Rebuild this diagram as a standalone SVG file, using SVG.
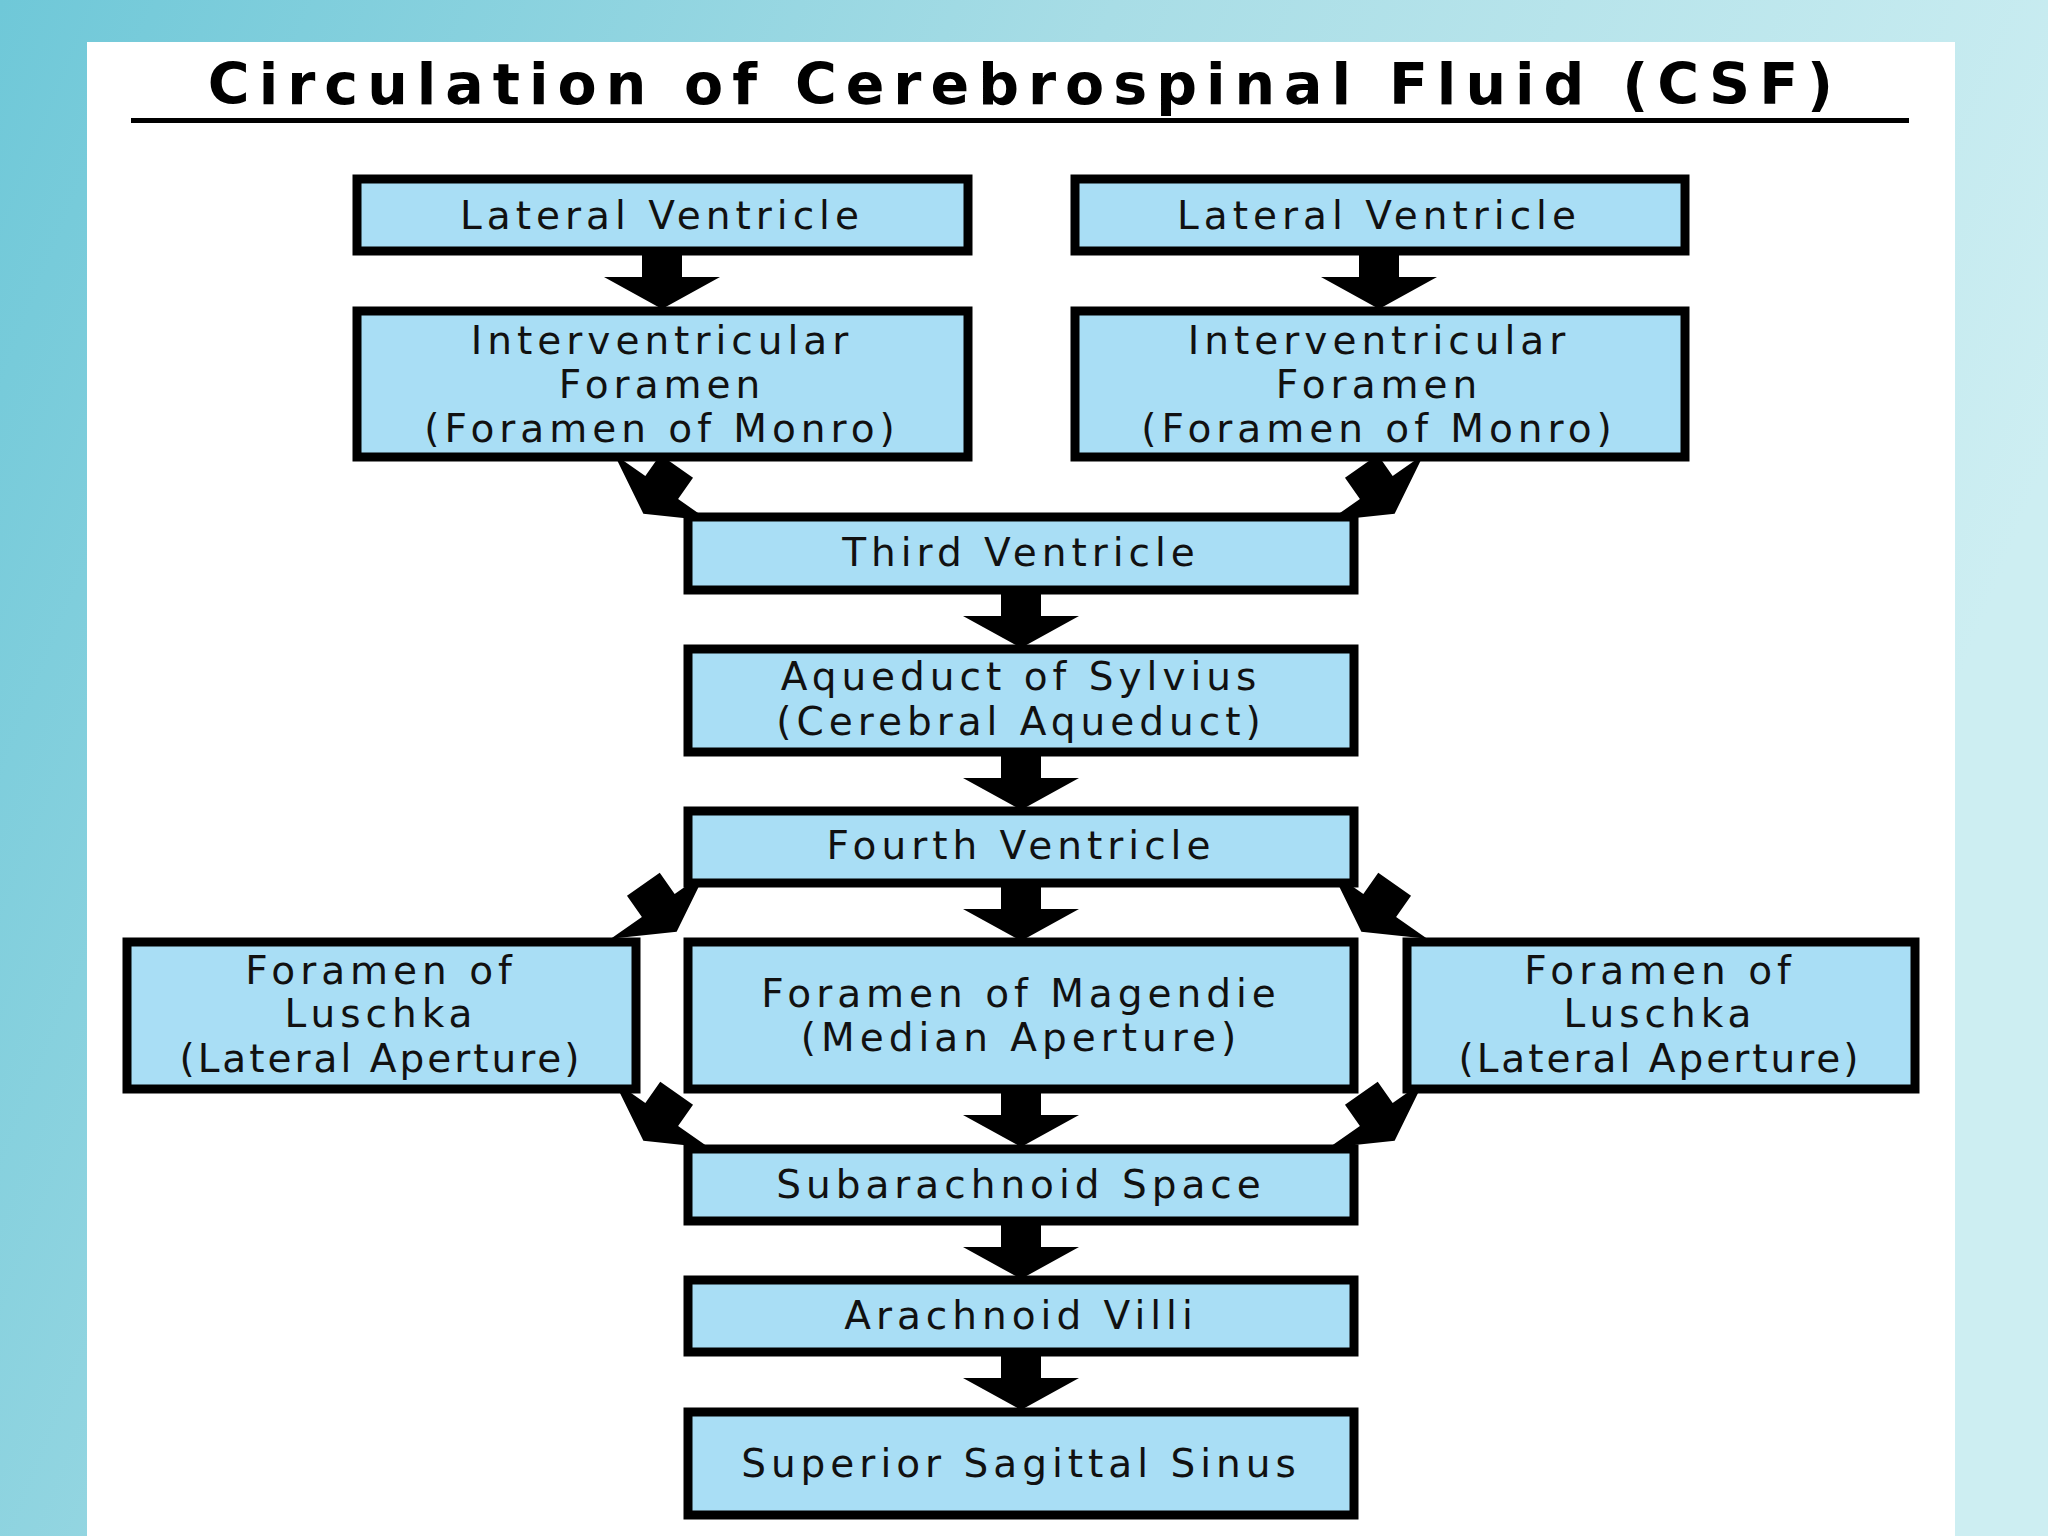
<svg xmlns="http://www.w3.org/2000/svg" width="2048" height="1536" viewBox="0 0 2048 1536">
<defs>
<linearGradient id="bg" x1="0" y1="0" x2="1" y2="0.3"><stop offset="0" stop-color="#6fc8d8"/><stop offset="0.5" stop-color="#a8dde6"/><stop offset="1" stop-color="#cdeef2"/></linearGradient>
<path id="ar" d="M-20,0 H20 V26 H58 L0,58 L-58,26 H-20 Z" fill="#000"/>
<path id="arc" d="M-20,-29 H20 V-3 H58 L0,29 L-58,-3 H-20 Z" fill="#000"/>
</defs>
<style>
.b{fill:#a9def5;stroke:#000;stroke-width:9}
.t{font-family:"DejaVu Sans",sans-serif;font-size:39px;letter-spacing:5px;text-anchor:middle;dominant-baseline:central;fill:#111}
</style>
<rect width="2048" height="1536" fill="url(#bg)"/>
<rect x="87" y="42" width="1868" height="1494" fill="#fff"/>
<text x="1025" y="84" font-family="DejaVu Sans,sans-serif" font-weight="bold" font-size="57" letter-spacing="9" text-anchor="middle" dominant-baseline="central">Circulation of Cerebrospinal Fluid (CSF)</text>
<rect x="131" y="118" width="1778" height="5" fill="#000"/>
<g id="connectors">
<use href="#ar" x="662" y="251"/><use href="#ar" x="1379" y="251"/>
<use href="#arc" transform="translate(660,490) rotate(35)"/>
<use href="#arc" transform="translate(1378,490) rotate(-35)"/>
<use href="#ar" x="1021" y="590"/><use href="#ar" x="1021" y="752"/><use href="#ar" x="1021" y="883"/>
<use href="#arc" transform="translate(660,908) rotate(-35)"/>
<use href="#arc" transform="translate(1378,908) rotate(35)"/>
<use href="#arc" transform="translate(660,1117) rotate(35)"/>
<use href="#arc" transform="translate(1378,1117) rotate(-35)"/>
<use href="#ar" x="1021" y="1089"/><use href="#ar" x="1021" y="1221"/><use href="#ar" x="1021" y="1352"/>
</g>
<g id="lv1"><rect class="b" x="357" y="179" width="611" height="72"/><text class="t" x="662" y="215">Lateral Ventricle</text></g>
<g id="lv2"><rect class="b" x="1075" y="179" width="610" height="72"/><text class="t" x="1379" y="215">Lateral Ventricle</text></g>
<g id="if1"><rect class="b" x="357" y="311" width="611" height="146"/><text class="t" x="662" y="340">Interventricular</text><text class="t" x="662" y="384">Foramen</text><text class="t" x="662" y="428">(Foramen of Monro)</text></g>
<g id="if2"><rect class="b" x="1075" y="311" width="610" height="146"/><text class="t" x="1379" y="340">Interventricular</text><text class="t" x="1379" y="384">Foramen</text><text class="t" x="1379" y="428">(Foramen of Monro)</text></g>
<g id="third"><rect class="b" x="688" y="517" width="666" height="73"/><text class="t" x="1021" y="552">Third Ventricle</text></g>
<g id="aq"><rect class="b" x="688" y="649" width="666" height="103"/><text class="t" x="1021" y="676">Aqueduct of Sylvius</text><text class="t" x="1021" y="721">(Cerebral Aqueduct)</text></g>
<g id="fourth"><rect class="b" x="688" y="811" width="666" height="72"/><text class="t" x="1021" y="845">Fourth Ventricle</text></g>
<g id="lus1"><rect class="b" x="127" y="942" width="509" height="147"/><text class="t" x="381" y="970">Foramen of</text><text class="t" x="381" y="1013">Luschka</text><text class="t" x="381" y="1058" style="letter-spacing:3px">(Lateral Aperture)</text></g>
<g id="mag"><rect class="b" x="688" y="942" width="666" height="147"/><text class="t" x="1021" y="993">Foramen of Magendie</text><text class="t" x="1021" y="1037">(Median Aperture)</text></g>
<g id="lus2"><rect class="b" x="1407" y="942" width="508" height="147"/><text class="t" x="1660" y="970">Foramen of</text><text class="t" x="1660" y="1013">Luschka</text><text class="t" x="1660" y="1058" style="letter-spacing:3px">(Lateral Aperture)</text></g>
<g id="sub"><rect class="b" x="688" y="1149" width="666" height="72"/><text class="t" x="1021" y="1184">Subarachnoid Space</text></g>
<g id="arach"><rect class="b" x="688" y="1280" width="666" height="72"/><text class="t" x="1021" y="1315">Arachnoid Villi</text></g>
<g id="sss"><rect class="b" x="688" y="1412" width="666" height="103"/><text class="t" x="1021" y="1463">Superior Sagittal Sinus</text></g>
</svg>
